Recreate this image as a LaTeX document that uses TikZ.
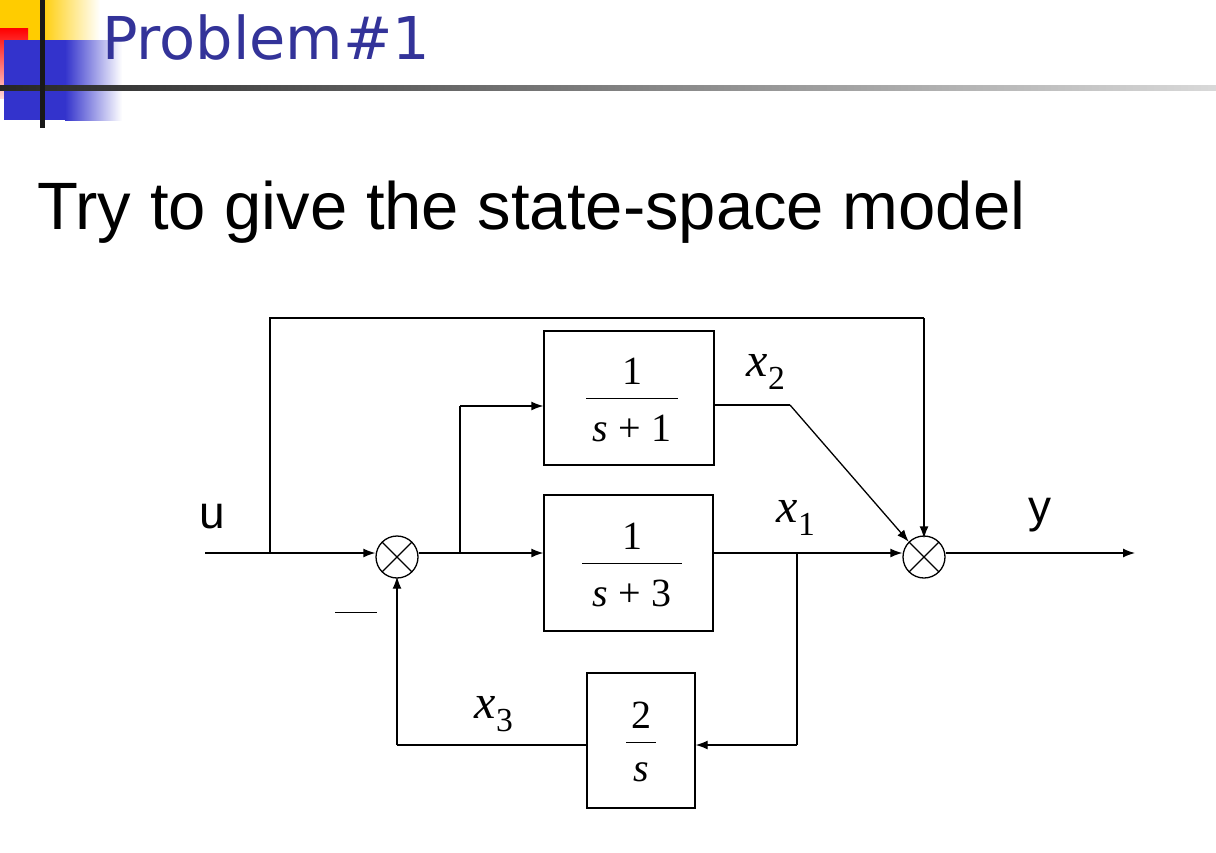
\documentclass[tikz,border=0pt]{standalone}
\usepackage{fontspec}
\setmainfont{Liberation Serif}
\newfontfamily\sansf{Liberation Sans}
\newfontfamily\titlef{DejaVu Sans}
\usetikzlibrary{arrows.meta,calc}
\definecolor{titleblue}{HTML}{333399}
\definecolor{dblue}{HTML}{3333CC}
\definecolor{dyel}{HTML}{FFCC00}
\begin{document}
\begin{tikzpicture}[x=1pt,y=-1pt,
  wire/.style={line width=1.3pt,-{Latex[length=12pt,width=9pt]}},
  plain/.style={line width=1.3pt},
  blk/.style={draw,line width=1.3pt,minimum width=170pt,minimum height=134pt,inner sep=0pt},
  sumc/.style={draw,circle,line width=1.3pt,minimum size=42pt,inner sep=0pt,
    path picture={\draw[line width=1.1pt] (path picture bounding box.north west)--(path picture bounding box.south east) (path picture bounding box.north east)--(path picture bounding box.south west);}},
  lab/.style={font=\fontsize{48}{48}\selectfont\itshape},
  sl/.style={font=\sansf\fontsize{46}{46}\selectfont}]
\useasboundingbox (0,0) rectangle (1216,852);
\fill[white] (0,0) rectangle (1216,852);
% decoration
\shade[left color=dyel,right color=white] (40,0) rectangle (100,40);
\fill[dyel] (0,0) rectangle (42,40);
\shade[top color=red,bottom color=red!15] (0,28) rectangle (28,98);
\fill[dblue] (4,40) rectangle (65,120);
\shade[left color=dblue,right color=white] (65,40) rectangle (122,120);
\shade[left color=black!85,right color=black!15] (0,85) rectangle (1216,90);
\fill[black!90] (40,0) rectangle (45,128);
\node[anchor=west,text=titleblue,font=\titlef\fontsize{59}{59}\selectfont,inner sep=0pt] (title) at (102,38) {Problem\#1};
\node[anchor=west,font=\sansf\fontsize{67}{67}\selectfont,inner sep=0pt] (sub) at (37,212) {Try to give the state-space model};
% blocks
\node[blk] (b1) at (629,398) {};
\node[blk,minimum width=169pt,minimum height=136pt] (b2) at (628.5,563) {};
\node[blk,minimum width=108pt,minimum height=135pt] (b3) at (641,740.5) {};
\node[sumc] (s1) at (397,557) {};
\node[sumc] (s2) at (924,557) {};
% fractions
\foreach \n/\cx/\cy/\w/\num/\den in {f1/632/398/92/1/{\itshape s\/} + 1, f2/632/563/100/1/{\itshape s\/} + 3, f3/641/742/30/2/{\itshape s}}{
  \draw[line width=1pt] (\cx-\w/2,\cy) -- (\cx+\w/2,\cy);
  \node[font=\fontsize{40}{40}\selectfont] (\n n) at (\cx,\cy-27) {\num};
  \node[font=\fontsize{40}{40}\selectfont] (\n d) at (\cx,\cy+30) {\den};
}
% coordinates
\coordinate (uin) at (205,553);
\coordinate (ub) at (270,553);
\coordinate (ut) at (270,318);
\coordinate (ur) at (924,318);
\coordinate (br) at (460,553);
\coordinate (bt) at (460,406);
\coordinate (x2a) at (790,405);
\coordinate (x1b) at (797,553);
\coordinate (x1d) at (797,745);
\coordinate (x3l) at (397,745);
\coordinate (yout) at (1135,553);
% connectors
\draw[wire] (uin) -- (s1.west|-uin);
\draw[plain] (ub) -- (ut) -- (ur);
\draw[wire] (ur) -- ($(s2.north)+(0,3)$);
\draw[wire] (s1.east|-uin) -- (b2.west|-uin);
\draw[plain] (br) -- (bt);
\draw[wire] (bt) -- (b1.west|-bt);
\draw[plain] (b1.east|-x2a) -- (x2a);
\draw[wire] (x2a) -- (s2.north west);
\draw[wire] (b2.east|-uin) -- (s2.west|-uin);
\draw[wire] (s2.east|-uin) -- (yout);
\draw[plain] (x1b) -- (x1d);
\draw[wire] (x1d) -- (b3.east|-x1d);
\draw[plain] (b3.west|-x1d) -- (x3l);
\draw[wire] (x3l) -- ($(s1.south)+(0,-2)$);
% labels
\node[sl] (lu) at (212,517) {u};
\node[sl] (ly) at (1040,515) {y};
\node[lab] (lx2) at (766,372) {x\textsubscript{\upshape 2}};
\node[lab] (lx1) at (796,518) {x\textsubscript{\upshape 1}};
\node[lab] (lx3) at (494,714) {x\textsubscript{\upshape 3}};
\draw[line width=1pt] (335,612) -- (377,612);
\end{tikzpicture}
\end{document}
